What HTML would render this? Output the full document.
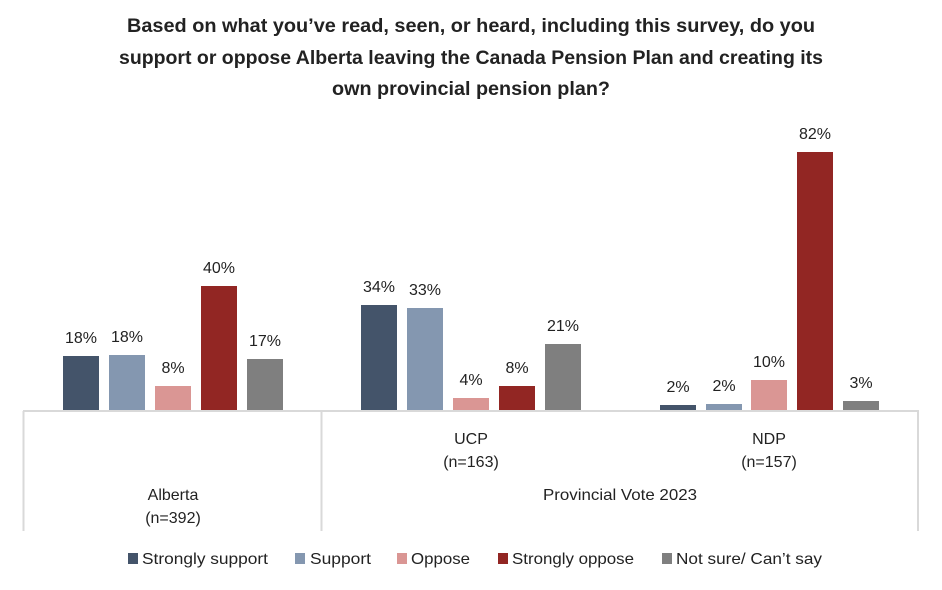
<!DOCTYPE html>
<html><head><meta charset="utf-8"><style>
body{margin:0;background:#fff;}
svg{display:block;font-family:"Liberation Sans",Calibri,sans-serif;}
</style></head><body>
<svg width="942" height="590" viewBox="0 0 942 590" xmlns="http://www.w3.org/2000/svg">
<g font-weight="bold" font-size="19.8" fill="#222" text-anchor="middle">
<text x="471" y="32" textLength="688" lengthAdjust="spacingAndGlyphs">Based on what you’ve read, seen, or heard, including this survey, do you</text>
<text x="471" y="64" textLength="704" lengthAdjust="spacingAndGlyphs">support or oppose Alberta leaving the Canada Pension Plan and creating its</text>
<text x="471" y="95" textLength="278" lengthAdjust="spacingAndGlyphs">own provincial pension plan?</text>
</g>
<g>
<rect x="63" y="356" width="36" height="55" fill="#44546a"/>
<rect x="109" y="355" width="36" height="56" fill="#8497b0"/>
<rect x="155" y="386" width="36" height="25" fill="#da9694"/>
<rect x="201" y="286" width="36" height="125" fill="#922623"/>
<rect x="247" y="359" width="36" height="52" fill="#7f7f7f"/>
<rect x="361" y="305" width="36" height="106" fill="#44546a"/>
<rect x="407" y="308" width="36" height="103" fill="#8497b0"/>
<rect x="453" y="398" width="36" height="13" fill="#da9694"/>
<rect x="499" y="386" width="36" height="25" fill="#922623"/>
<rect x="545" y="344" width="36" height="67" fill="#7f7f7f"/>
<rect x="660" y="405" width="36" height="6" fill="#44546a"/>
<rect x="706" y="404" width="36" height="7" fill="#8497b0"/>
<rect x="751" y="380" width="36" height="31" fill="#da9694"/>
<rect x="797" y="152" width="36" height="259" fill="#922623"/>
<rect x="843" y="401" width="36" height="10" fill="#7f7f7f"/>
</g>
<g font-size="16" fill="#222" text-anchor="middle">
<text x="81" y="343">18%</text><text x="127" y="342">18%</text><text x="173" y="373">8%</text><text x="219" y="273">40%</text><text x="265" y="346">17%</text>
<text x="379" y="292">34%</text><text x="425" y="295">33%</text><text x="471" y="385">4%</text><text x="517" y="373">8%</text><text x="563" y="331">21%</text>
<text x="678" y="392">2%</text><text x="724" y="391">2%</text><text x="769" y="367">10%</text><text x="815" y="139">82%</text><text x="861" y="388">3%</text>
</g>
<g stroke="#d9d9d9" stroke-width="2" fill="none">
<line x1="23" y1="411" x2="919" y2="411"/>
<line x1="23.5" y1="411" x2="23.5" y2="531"/>
<line x1="321.5" y1="411" x2="321.5" y2="531"/>
<line x1="918" y1="411" x2="918" y2="531"/>
</g>
<g font-size="16" fill="#222" text-anchor="middle">
<text x="471" y="444">UCP</text><text x="471" y="467">(n=163)</text>
<text x="769" y="444">NDP</text><text x="769" y="467">(n=157)</text>
<text x="173" y="500">Alberta</text><text x="173" y="523">(n=392)</text>
<text x="620" y="500" textLength="154" lengthAdjust="spacingAndGlyphs">Provincial Vote 2023</text>
</g>
<g font-size="16" fill="#222">
<rect x="128" y="553" width="10" height="11" fill="#44546a"/><text x="142" y="564" textLength="126" lengthAdjust="spacingAndGlyphs">Strongly support</text>
<rect x="295" y="553" width="10" height="11" fill="#8497b0"/><text x="310" y="564" textLength="61" lengthAdjust="spacingAndGlyphs">Support</text>
<rect x="397" y="553" width="10" height="11" fill="#da9694"/><text x="411" y="564" textLength="59" lengthAdjust="spacingAndGlyphs">Oppose</text>
<rect x="498" y="553" width="10" height="11" fill="#922623"/><text x="512" y="564" textLength="122" lengthAdjust="spacingAndGlyphs">Strongly oppose</text>
<rect x="662" y="553" width="10" height="11" fill="#7f7f7f"/><text x="676" y="564" textLength="146" lengthAdjust="spacingAndGlyphs">Not sure/ Can’t say</text>
</g>
</svg>
</body></html>
